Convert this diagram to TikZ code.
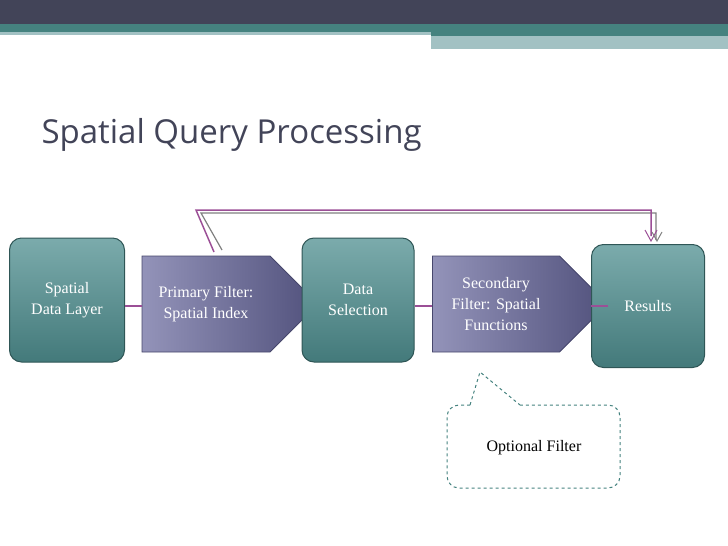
\documentclass[tikz,border=0pt]{standalone}
\usepackage{fontspec}
\setmainfont{Liberation Serif}
\newfontfamily\titlefont{Open Sans}
\usetikzlibrary{shapes.geometric,shapes.symbols}
\definecolor{slatedark}{HTML}{424458}
\definecolor{tealband}{HTML}{45827F}
\definecolor{tealpale}{HTML}{A2C1C3}
\definecolor{boxteal}{HTML}{4F8F90}
\definecolor{boxpurple}{HTML}{65659B}
\definecolor{linkpink}{HTML}{9B4F96}
\tikzset{>=stealth}

\begin{document}
\begin{tikzpicture}[x=1pt,y=-1pt,
    stage/.style={draw=boxteal!60!black, line width=1pt, rounded corners=12pt,
      top color=boxteal!75!white, bottom color=boxteal!85!black,
      text=white, align=center, inner sep=0pt, font=\fontsize{16}{21}\selectfont},
    filterstep/.style={draw=boxpurple!70!black, line width=0.8pt, shape=signal, signal to=east,
      signal pointer angle=90,
      left color=boxpurple!70!white, right color=boxpurple!80!black,
      text=white, align=center, inner sep=0pt, font=\fontsize{16}{21}\selectfont},
    link/.style={linkpink, line width=2pt}]
    \useasboundingbox (0,0) rectangle (728,546);
    % header bands
    \fill[slatedark] (0,0) rectangle (728,24);
    \fill[tealband] (0,24) rectangle (728,32);
    \fill[tealband] (431,32) rectangle (728,36);
    \fill[tealpale] (0,32) rectangle (431,35);
    \fill[tealpale] (431,36) rectangle (728,49);
    \node[anchor=west, text=slatedark, font=\titlefont\fontsize{33}{36}\selectfont] (title) at (38,135) {Spatial Query Processing};
    % stages
    \node[stage, minimum width=115pt, minimum height=124pt] (layer) at (67,300) {Spatial\\Data Layer};
    \node[filterstep, minimum width=176pt, minimum height=96pt] (primary) at (206,304) {Primary Filter:\\Spatial Index};
    \node[stage, minimum width=112pt, minimum height=124pt] (select) at (358,300) {Data\\Selection};
    \node[filterstep, minimum width=175pt, minimum height=96pt] (secondary) at (496,304) {Secondary\\Filter: Spatial\\Functions};
    \node[stage, minimum width=113pt, minimum height=123pt] (results) at (648,306) {Results};
    % links
    \draw[link] (layer.east |- 0,306) -- (primary.west |- 0,306);
    \draw[link] (select.east |- 0,306) -- (secondary.west |- 0,306);
    \draw[link] (secondary.east |- 0,306) -- (results.west |- 0,306);
    \coordinate (loopA) at (196,210);
    \coordinate (loopB) at (651,210);
    \draw[gray, line width=1.2pt] (222,250) -- (201,213) -- (656,213) -- (656,240);
    \draw[linkpink, line width=1.5pt] (214,252) -- (loopA) -- (loopB) -- (651,236);
    \draw[linkpink, line width=1pt] (645,230) -- (651,241) -- (657,230);
    \draw[gray, line width=1pt] (652,232) -- (657,241) -- (662,232);
    % callout
    \draw[tealband, dashed, line width=1pt, rounded corners=12pt]
      (470,405) -- (447,405) -- (447,488) -- (620,488) -- (620,405) -- (520,405);
    \draw[tealband, dashed, line width=1pt] (470,405) -- (480,372) -- (520,405);
    \node[font=\fontsize{16}{20}\selectfont] (optional) at (534,448) {Optional Filter};
\end{tikzpicture}
\end{document}
